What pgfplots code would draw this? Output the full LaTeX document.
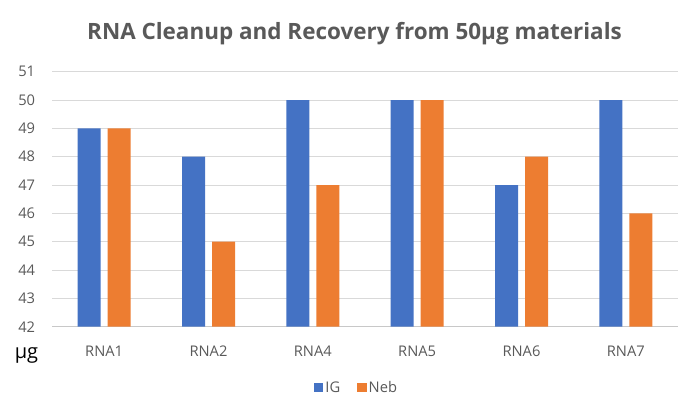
\documentclass[border=0pt]{standalone}
\usepackage{pgfplots}
\pgfplotsset{compat=1.18}
\usepackage{fontspec}
\setmainfont{Open Sans}
\definecolor{igblue}{HTML}{4472C4}
\definecolor{neborange}{HTML}{ED7D31}
\definecolor{txtgray}{HTML}{595959}
\definecolor{gridgray}{HTML}{D9D9D9}
\definecolor{axgray}{HTML}{C8C8C8}
\begin{document}
\begin{tikzpicture}[x=1bp,y=1bp]
\useasboundingbox (0,0) rectangle (700,417);
\node[anchor=base, font=\fontsize{22.45bp}{26bp}\selectfont\bfseries, text=txtgray, inner sep=0pt] at (354.5,377.7) {RNA Cleanup and Recovery from 50µg materials};
\node[anchor=base, font=\fontsize{20bp}{24bp}\selectfont, inner sep=0pt] at (26.5,58.5) {µg};
\begin{axis}[
  at={(52bp,90.3bp)}, anchor=south west, scale only axis,
  width=626bp, height=255bp,
  ymin=42, ymax=51, ytick={42,43,...,51},
  xmin=-0.5, xmax=5.5, xtick={0,1,2,3,4,5},
  xticklabels={RNA1,RNA2,RNA4,RNA5,RNA6,RNA7},
  ybar=7bp, bar width=23bp,
  axis x line*=bottom, axis y line*=left,
  y axis line style={draw=none},
  x axis line style={draw=axgray, line width=1.2bp, -},
  major tick length=0pt,
  ymajorgrids, grid style={draw=gridgray, line width=1bp},
  /pgf/number format/assume math mode=true,
  ticklabel style={font=\fontsize{14.7bp}{18bp}\selectfont, text=txtgray, inner sep=0pt},
  yticklabel style={xshift=-16.7bp},
  xticklabel style={yshift=-19bp},
  legend columns=2,
  legend style={draw=none, fill=none, at={(axis description cs:0.4864,-0.240)}, anchor=center,
    font=\fontsize{14.7bp}{18bp}\selectfont, text=txtgray,
    /tikz/every even column/.append style={column sep=15bp}},
  legend image code/.code={\fill[#1] (0bp,-4.5bp) rectangle (9.5bp,4.5bp);},
]
\addplot[fill=igblue, draw=none] coordinates {(0,49) (1,48) (2,50) (3,50) (4,47) (5,50)};
\addplot[fill=neborange, draw=none] coordinates {(0,49) (1,45) (2,47) (3,50) (4,48) (5,46)};
\legend{IG,Neb}
\end{axis}
\end{tikzpicture}
\end{document}
